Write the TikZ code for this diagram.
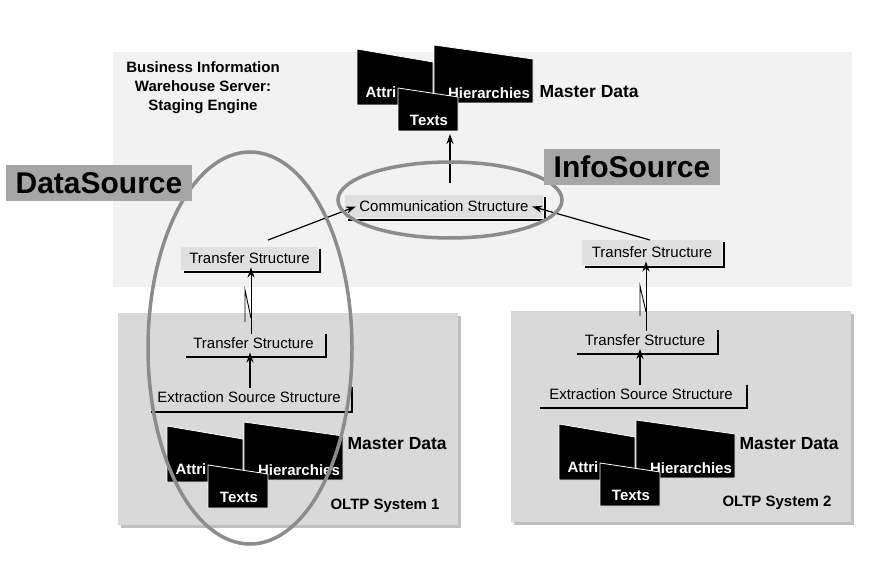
\documentclass[tikz,border=0pt]{standalone}
\usepackage{fontspec}
\setmainfont{Liberation Sans}
\usetikzlibrary{arrows.meta}
\begin{document}
\begin{tikzpicture}[x=1pt,y=-1pt,
 card/.style={fill=black,draw=white,line width=0.8pt},
 cardtxt/.style={text=white,font=\bfseries\fontsize{15}{17}\selectfont},
 arr/.style={-{Stealth[length=10pt,width=7pt]},line width=1.2pt},
 lbl/.style={fill=black!35,font=\bfseries\fontsize{30}{34}\selectfont,inner xsep=10pt,inner ysep=7pt},
 ell/.style={draw=black!45,line width=3.5pt}]
\useasboundingbox (0,0) rectangle (875,567);
\fill[black!5] (113,52) rectangle (852,287);
\fill[black!25] (121,316) rectangle (461,528);
\fill[black!15] (118,313) rectangle (458,525);
\fill[black!25] (514,314) rectangle (854,525);
\fill[black!15] (511,311) rectangle (851,522);
\node[align=center,font=\bfseries\fontsize{15}{19}\selectfont] (bw) at (203,88) {Business Information\\Warehouse Server:\\Staging Engine};
\newcommand\mdicon[3]{%
 \begin{scope}[shift={(#1,#2)}]
 \fill[card] (77,0) -- (176,14) -- (176,58) -- (77,58) -- cycle;
 \node[cardtxt] (#3h) at (132,48) {Hierarchies};
 \fill[card] (0,4) -- (76,17) -- (76,60) -- (0,60) -- cycle;
 \node[cardtxt] (#3a) at (24,47) {Attri};
 \fill[card] (41,43) -- (101,52) -- (101,86) -- (41,86) -- cycle;
 \node[cardtxt] (#3t) at (72,75) {Texts};
 \end{scope}}
\mdicon{357}{45}{top}
\mdicon{167}{422}{l}
\mdicon{559}{420}{r}
\node[font=\bfseries\fontsize{17.5}{20}\selectfont,anchor=west] (mdt) at (536,92) {Master Data};
\node[font=\bfseries\fontsize{17.5}{20}\selectfont,anchor=west] (mdl) at (344,444) {Master Data};
\node[font=\bfseries\fontsize{17.5}{20}\selectfont,anchor=west] (mdr) at (736,444) {Master Data};
\node[font=\bfseries\fontsize{15}{17}\selectfont] (o1) at (385,506) {OLTP System 1};
\node[font=\bfseries\fontsize{15}{17}\selectfont] (o2) at (777,503) {OLTP System 2};
\newcommand\sbx[6]{%
 \fill[#6] (#1,#2) rectangle (#3,#4);
 \draw[line width=2pt] (#1+3,#4+1.5) -- (#3+1.5,#4+1.5) -- (#3+1.5,#2+2);
 \node[font=\fontsize{15}{17}\selectfont] (#5) at ({(#1+#3)/2},{(#2+#4)/2}) {\csname txt#5\endcsname};}
\def\txtcs{Communication Structure}
\def\txttl{Transfer Structure}\def\txttr{Transfer Structure}
\def\txtsl{Transfer Structure}\def\txtsr{Transfer Structure}
\def\txtel{Extraction Source Structure}\def\txter{Extraction Source Structure}
\sbx{345}{195}{543}{218}{cs}{black!12}
\sbx{181}{247}{318}{270}{tl}{black!12}
\sbx{582}{240}{722}{265}{tr}{black!12}
\sbx{183}{332}{324}{355}{sl}{black!15}
\sbx{574}{328}{716}{352}{sr}{black!15}
\sbx{148}{385}{350}{410}{el}{black!15}
\sbx{537}{383}{745}{406}{er}{black!15}
\coordinate (mdin) at (450,134);
\draw[arr] (450,183) -- (mdin);
\draw[arr] (268,240) -- (cs.west);
\draw[arr] (650,240) -- (cs.east);
\draw[arr] (el.north -| 250,0) -- (sl.south -| 250,0);
\draw[arr] (er.north -| 640,0) -- (sr.south -| 640,0);
\draw[arr,line width=0.9pt] (sl.north -| 251,0) -- (tl.south -| 251,0);
\draw[line width=0.9pt] (245,322) -- (245,290) -- (251,318);
\draw[arr,line width=0.9pt] (sr.north -| 646,0) -- (tr.south -| 646,0);
\draw[line width=0.9pt] (640,316) -- (640,286) -- (646,312);
\draw[ell] (450,200) ellipse (112 and 38);
\draw[ell] (250,348) ellipse (102 and 196);
\node[lbl] (is) at (632,167) {InfoSource};
\node[lbl] (ds) at (99,183) {DataSource};
\end{tikzpicture}
\end{document}
